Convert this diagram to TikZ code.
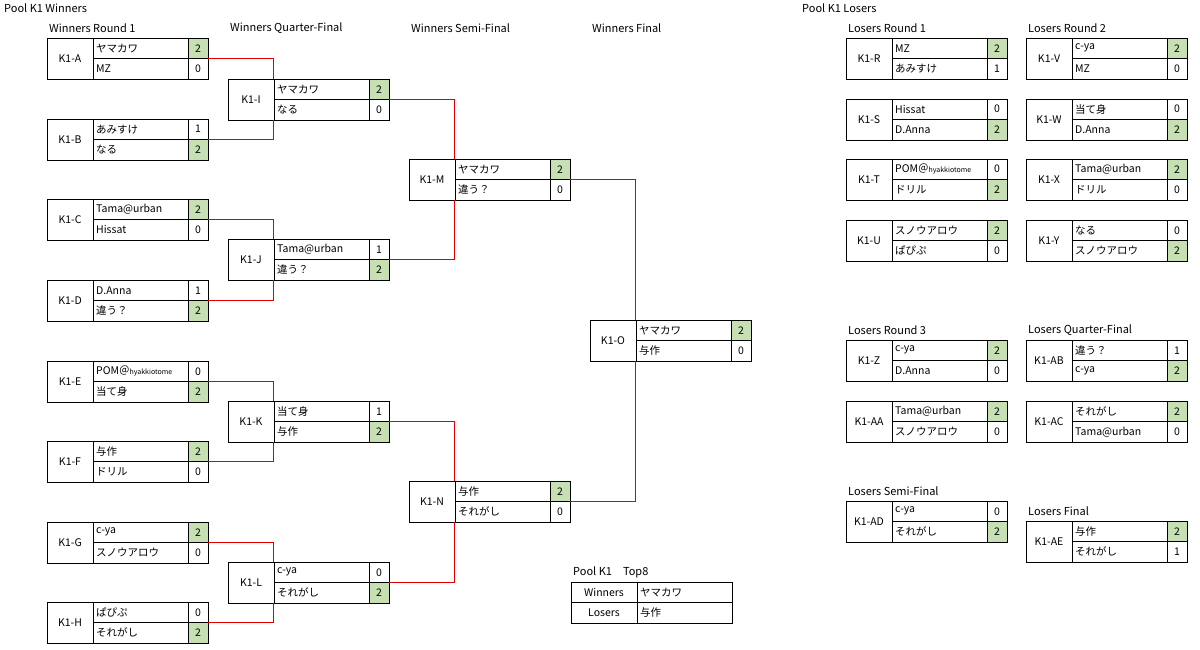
\documentclass[tikz,border=0pt]{standalone}
\usepackage{fontspec}
\setmainfont{Noto Sans CJK JP}
\usetikzlibrary{calc}
\definecolor{wg}{HTML}{C6E0B4}
\tikzset{mbox/.style={draw,minimum width=161pt,minimum height=41pt,inner sep=0pt,line width=0.8pt},
 win/.style={fill=wg},
 txt/.style={inner sep=0pt,font=\fontsize{10.5}{12}\selectfont},
 hdr/.style={inner sep=0pt,anchor=west,font=\fontsize{11}{13}\selectfont},
 conn/.style={red!90!black,line width=1.3pt}}
\newcommand\pom{POM＠{\fontsize{7}{8}\selectfont hyakkiotome}}
\newcommand\mt[8]{%
 \ifnum#8=1 \fill[win] ({#2+141},{-#3}) rectangle ({#2+161},{-#3-20.5});\else\fill[win] ({#2+141},{-#3-20.5}) rectangle ({#2+161},{-#3-41});\fi
 \node[mbox] (#1) at ({#2+80.5},{-#3-20.5}) {};
 \draw[line width=0.8pt] ({#2+46},{-#3}) -- ({#2+46},{-#3-41}) ({#2+141},{-#3}) -- ({#2+141},{-#3-41}) ({#2+46},{-#3-20.5}) -- ({#2+161},{-#3-20.5});
 \node[txt] (#1l) at ({#2+23},{-#3-20.5}) {K1-#1};
 \node[txt,anchor=west] (#1p) at ({#2+49},{-#3-10.25}) {#4};
 \node[txt,anchor=west] (#1q) at ({#2+49},{-#3-30.75}) {#6};
 \node[txt] (#1s) at ({#2+151},{-#3-10.25}) {#5};
 \node[txt] (#1t) at ({#2+151},{-#3-30.75}) {#7};
}
\begin{document}
\begin{tikzpicture}[x=1pt,y=1pt]
\useasboundingbox[fill=white] (0,0) rectangle (1200,-649);
\node[hdr] (h1) at (4,-8) {Pool K1 Winners};
\node[hdr] (h2) at (802,-8) {Pool K1 Losers};
\node[hdr] (h3) at (49,-28) {Winners Round 1};
\node[hdr] (h4) at (230,-28) {Winners Quarter-Final};
\node[hdr] (h5) at (411,-28) {Winners Semi-Final};
\node[hdr] (h6) at (592,-28) {Winners Final};
\node[hdr] (h7) at (848,-28) {Losers Round 1};
\node[hdr] (h8) at (1028,-28) {Losers Round 2};
\node[hdr] (h9) at (848,-330) {Losers Round 3};
\node[hdr] (h10) at (1028,-330) {Losers Quarter-Final};
\node[hdr] (h11) at (848,-491) {Losers Semi-Final};
\node[hdr] (h12) at (1028,-511) {Losers Final};
\node[hdr] (h13) at (573,-572) {Pool K1　Top8};
% winners
\mt{A}{47}{38}{ヤマカワ}{2}{MZ}{0}{1}
\mt{B}{47}{119}{あみすけ}{1}{なる}{2}{2}
\mt{C}{47}{199}{Tama@urban}{2}{Hissat}{0}{1}
\mt{D}{47}{280}{D.Anna}{1}{違う？}{2}{2}
\mt{E}{47}{361}{\pom}{0}{当て身}{2}{2}
\mt{F}{47}{441}{与作}{2}{ドリル}{0}{1}
\mt{G}{47}{522}{c-ya}{2}{スノウアロウ}{0}{1}
\mt{H}{47}{602}{ぱぴぷ}{0}{それがし}{2}{2}
\mt{I}{228}{79}{ヤマカワ}{2}{なる}{0}{1}
\mt{J}{228}{239}{Tama@urban}{1}{違う？}{2}{2}
\mt{K}{228}{401}{当て身}{1}{与作}{2}{2}
\mt{L}{228}{562}{c-ya}{0}{それがし}{2}{2}
\mt{M}{409}{159}{ヤマカワ}{2}{違う？}{0}{1}
\mt{N}{409}{481}{与作}{2}{それがし}{0}{1}
\mt{O}{590}{320}{ヤマカワ}{2}{与作}{0}{1}
\foreach \a/\b/\c in {A/B/I,C/D/J,E/F/K,G/H/L,I/J/M,K/L/N,M/N/O}{
 \draw[conn] (\a.east) -| ($(\c.north west)+(46,0)$);
 \draw[conn] (\b.east) -| ($(\c.south west)+(46,0)$);
}
% losers
\mt{R}{846}{38}{MZ}{2}{あみすけ}{1}{1}
\mt{S}{846}{99}{Hissat}{0}{D.Anna}{2}{2}
\mt{T}{846}{159}{\pom}{0}{ドリル}{2}{2}
\mt{U}{846}{220}{スノウアロウ}{2}{ぱぴぷ}{0}{1}
\mt{V}{1026}{38}{c-ya}{2}{MZ}{0}{1}
\mt{W}{1026}{99}{当て身}{0}{D.Anna}{2}{2}
\mt{X}{1026}{159}{Tama@urban}{2}{ドリル}{0}{1}
\mt{Y}{1026}{220}{なる}{0}{スノウアロウ}{2}{2}
\mt{Z}{846}{340}{c-ya}{2}{D.Anna}{0}{1}
\mt{AA}{846}{401}{Tama@urban}{2}{スノウアロウ}{0}{1}
\mt{AB}{1026}{340}{違う？}{1}{c-ya}{2}{2}
\mt{AC}{1026}{401}{それがし}{2}{Tama@urban}{0}{1}
\mt{AD}{846}{501}{c-ya}{0}{それがし}{2}{2}
\mt{AE}{1026}{521}{与作}{2}{それがし}{1}{1}
% top8
\node[draw,minimum width=161pt,minimum height=41pt,line width=0.8pt] (top) at (651.5,-602.5) {};
\draw[line width=0.8pt] (637,-582) -- (637,-623) (571,-602.5) -- (732,-602.5);
\node[txt] (tw) at (604,-592.25) {Winners};
\node[txt] (tl) at (604,-612.75) {Losers};
\node[txt,anchor=west] (tw2) at (640,-592.25) {ヤマカワ};
\node[txt,anchor=west] (tl2) at (640,-612.75) {与作};
\end{tikzpicture}
\end{document}
